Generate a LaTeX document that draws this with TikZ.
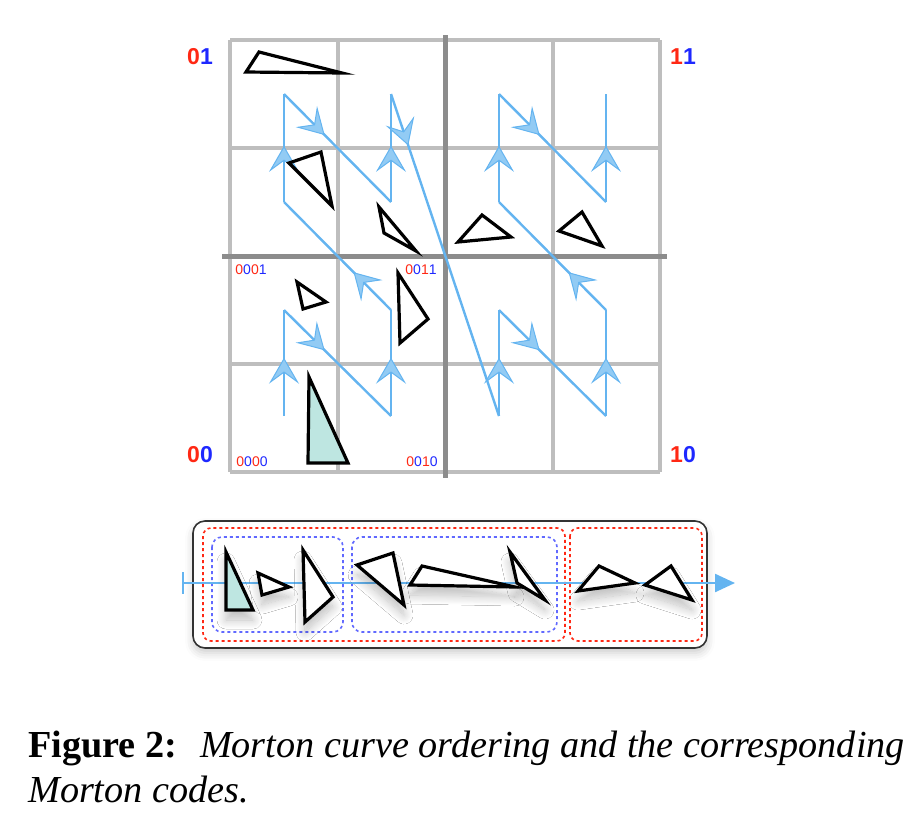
\documentclass[tikz,border=0pt]{standalone}
\usepackage{fontspec}
\setmainfont{Liberation Serif}
\newfontfamily\lsans{Liberation Sans}
\usetikzlibrary{arrows.meta,decorations.markings,shadows.blur}
\definecolor{curve}{RGB}{100,180,240}
\definecolor{gridc}{RGB}{190,190,190}
\definecolor{tealf}{RGB}{190,230,225}
\definecolor{rd}{RGB}{255,40,20}
\definecolor{bl}{RGB}{30,40,255}
\begin{document}
\begin{tikzpicture}[x=1pt,y=-1pt,
  gridline/.style={gridc,line width=3.2pt},
  axisline/.style={gray!90,line width=5pt},
  tri/.style={black,line width=3.2pt,line join=miter},
  curveseg/.style={curve,line width=2.4pt},
  markarr/.style={postaction={decorate},decoration={markings,mark=at position #1 with {\arrow{Stealth[length=26pt,width=30pt,inset=11pt,fill=curve!70,line width=1pt]}}}},
  corner/.style={font=\lsans\bfseries\fontsize{23}{23}\selectfont,inner sep=0pt},
  code/.style={font=\lsans\fontsize{14}{14}\selectfont,inner sep=0pt},
  rbox/.style={rd,dashed,line width=1.6pt,rounded corners=8pt},
  bbox/.style={bl!70,dashed,line width=1.6pt,rounded corners=10pt},
  btri/.style={tri,fill=white,blur shadow={shadow xshift=0pt,shadow yshift=-10pt,shadow blur radius=9pt,shadow opacity=25,shadow blur steps=15}}]
\useasboundingbox (0,0) rectangle (915,836);
% grid
\foreach \x in {230,338,553,660} \draw[gridline] (\x,40) -- (\x,472);
\foreach \y in {40,148,364,472} \draw[gridline] (230,\y) -- (660,\y);
\draw[axisline] (445,35) -- (445,478);
\draw[axisline] (222,256) -- (667,256);
% corner labels
\node[corner] (l01) at (200,57) {\textcolor{rd}{0}\textcolor{bl}{1}};
\node[corner] (l11) at (683,57) {\textcolor{rd}{1}\textcolor{bl}{1}};
\node[corner] (l00) at (200,455) {\textcolor{rd}{0}\textcolor{bl}{0}};
\node[corner] (l10) at (683,455) {\textcolor{rd}{1}\textcolor{bl}{0}};
\node[code] (c1) at (251,270) {\textcolor{rd}{0}\textcolor{bl}{0}\textcolor{rd}{0}\textcolor{bl}{1}};
\node[code] (c3) at (421,270) {\textcolor{rd}{0}\textcolor{bl}{0}\textcolor{rd}{1}\textcolor{bl}{1}};
\node[code] (c0) at (252,462) {\textcolor{rd}{0}\textcolor{bl}{0}\textcolor{rd}{0}\textcolor{bl}{0}};
\node[code] (c2) at (422,462) {\textcolor{rd}{0}\textcolor{bl}{0}\textcolor{rd}{1}\textcolor{bl}{0}};
% curve points
\coordinate (p1) at (284,416); \coordinate (p2) at (284,310);
\coordinate (p3) at (391,416); \coordinate (p4) at (391,310);
\coordinate (p5) at (284,202); \coordinate (p6) at (284,94);
\coordinate (p7) at (391,202); \coordinate (p8) at (391,94);
\coordinate (p9) at (499,416); \coordinate (p10) at (499,310);
\coordinate (p11) at (606,416); \coordinate (p12) at (606,310);
\coordinate (p13) at (499,202); \coordinate (p14) at (499,94);
\coordinate (p15) at (606,202); \coordinate (p16) at (606,94);
\draw[curveseg,markarr=0.55] (p1) -- (p2);
\draw[curveseg,markarr=0.38] (p2) -- (p3);
\draw[curveseg,markarr=0.55] (p3) -- (p4);
\draw[curveseg,markarr=0.35] (p4) -- (p5);
\draw[curveseg,markarr=0.52] (p5) -- (p6);
\draw[curveseg,markarr=0.38] (p6) -- (p7);
\draw[curveseg,markarr=0.52] (p7) -- (p8);
\draw[curveseg,markarr=0.16] (p8) -- (p9);
\draw[curveseg,markarr=0.55] (p9) -- (p10);
\draw[curveseg,markarr=0.38] (p10) -- (p11);
\draw[curveseg,markarr=0.55] (p11) -- (p12);
\draw[curveseg,markarr=0.35] (p12) -- (p13);
\draw[curveseg,markarr=0.52] (p13) -- (p14);
\draw[curveseg,markarr=0.38] (p14) -- (p15);
\draw[curveseg,markarr=0.52] (p15) -- (p16);
% triangles in grid
\draw[tri] (259,52) -- (246,72) -- (342,73) -- cycle;
\draw[tri] (289,163) -- (321,152) -- (332,206) -- cycle;
\draw[tri] (379,207) -- (384,233) -- (416,251) -- cycle;
\draw[tri] (482,215) -- (458,242) -- (511,237) -- cycle;
\draw[tri] (582,212) -- (559,231) -- (602,246) -- cycle;
\draw[tri] (297,282) -- (303,309) -- (326,302) -- cycle;
\draw[tri] (398,273) -- (400,343) -- (428,319) -- cycle;
\draw[tri,fill=tealf] (309,377) -- (308,463) -- (348,463) -- cycle;
% bottom strip
\draw[black!80,line width=1.6pt,rounded corners=12pt,fill=white,blur shadow={shadow xshift=0pt,shadow yshift=-5pt,shadow blur radius=8pt,shadow opacity=20}] (193,521) rectangle (707,648);
\draw[rbox] (203,528) rectangle (565,641);
\draw[rbox] (570,528) rectangle (702,641);
\draw[bbox] (212,537) rectangle (343,632);
\draw[bbox] (352,537) rectangle (557,632);
\coordinate (a0) at (183,583); \coordinate (a1) at (735,583);
\draw[curve,line width=2.4pt,-{Triangle[length=20pt,width=18pt]}] (a0) -- (a1);
\draw[curve,line width=2.4pt] (183,572) -- (183,594);
\draw[btri,fill=tealf] (226,552) -- (226,610) -- (253,610) -- cycle;
\draw[btri] (258,573) -- (262,595) -- (289,587) -- cycle;
\draw[btri] (303,550) -- (305,622) -- (333,597) -- cycle;
\draw[btri] (357,565) -- (393,553) -- (404,605) -- cycle;
\draw[btri] (410,585) -- (422,566) -- (515,587) -- cycle;
\draw[btri] (510,552) -- (517,583) -- (545,600) -- cycle;
\draw[btri] (578,591) -- (599,566) -- (635,583) -- cycle;
\draw[btri] (645,585) -- (671,566) -- (692,600) -- cycle;
% caption
\node[anchor=base west,inner sep=0pt,font=\fontsize{38.2}{38.2}\selectfont] (cap1) at (28,757) {\textbf{Figure 2:}\hspace{0.6em}\textit{Morton curve ordering and the corresponding}};
\node[anchor=base west,inner sep=0pt,font=\fontsize{38.2}{38.2}\selectfont\itshape] (cap2) at (28,802) {Morton codes.};
\end{tikzpicture}
\end{document}
